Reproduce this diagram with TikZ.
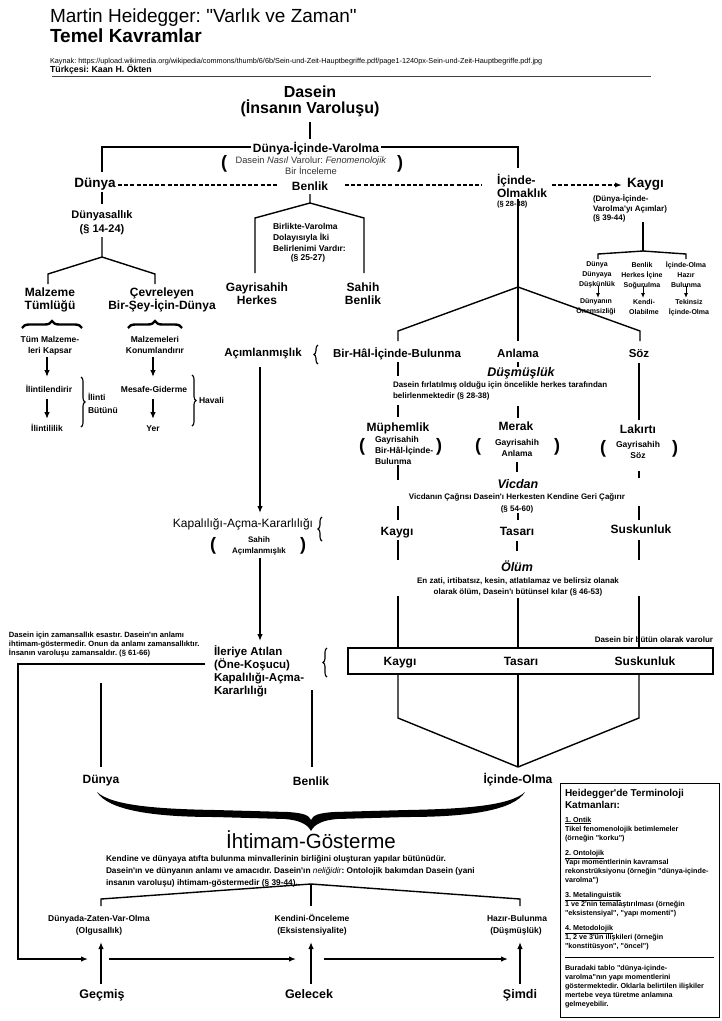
\documentclass[tikz,border=0pt]{standalone}
\usepackage{fontspec}
\setmainfont{Liberation Sans}[Ligatures=TeXOff]
\usetikzlibrary{arrows.meta,decorations.pathreplacing}
\newcommand\fsz[2]{\fontsize{#1}{#2}\selectfont}
\frenchspacing
\begin{document}
\begin{tikzpicture}[x=1pt,y=-1pt,
 every node/.style={inner sep=0pt,outer sep=0pt},
 ln/.style={line width=1.4pt},
 arr/.style={line width=1.3pt,-{Latex[length=7pt,width=5.5pt]}},
 sarr/.style={line width=1pt,-{Latex[length=5pt,width=4pt]}},
 dsh/.style={line width=1.3pt,dash pattern=on 4pt off 2.2pt},
 lab/.style={anchor=base,font=\bfseries\fsz{12}{14}},
 labm/.style={anchor=base,font=\bfseries\fsz{11.5}{13}},
 labs/.style={anchor=base,font=\bfseries\fsz{8}{10}},
 labx/.style={anchor=base,font=\bfseries\fsz{8.5}{11}},
 labi/.style={anchor=base,font=\bfseries\itshape\fsz{12.5}{14}},
 big/.style={anchor=base,font=\bfseries\fsz{13.5}{15}},
 paren/.style={font=\bfseries\fsz{18}{18}},
 cbr/.style={decorate,decoration={brace,amplitude=4pt},line width=1.1pt},
 wbr/.style={decorate,decoration={brace,amplitude=7pt},line width=2.4pt},
 blk/.style={align=left,font=\bfseries\fsz{8}{11}},
 tiny/.style={align=center,font=\bfseries\fsz{7}{10}},
]
\fill[white] (0,0) rectangle (722,1021);
\useasboundingbox (0,0) rectangle (722,1021);

% ---------- header
\node[anchor=base west,font=\fsz{19}{22}] (title) at (50,22) {Martin Heidegger: "Varlık ve Zaman"};
\node[anchor=base west,font=\bfseries\fsz{19}{22}] (subtitle) at (50,42) {Temel Kavramlar};
\node[anchor=base west,font=\fsz{7.3}{8}] (source) at (50,63) {Kaynak: https://upload.wikimedia.org/wikipedia/commons/thumb/6/6b/Sein-und-Zeit-Hauptbegriffe.pdf/page1-1240px-Sein-und-Zeit-Hauptbegriffe.pdf.jpg};
\node[anchor=base west,font=\bfseries\fsz{8.8}{10}] (translator) at (50,72) {Türkçesi: Kaan H. Ökten};
\draw[line width=1pt,black!75] (52,76.5) -- (651,76.5);

% ---------- top
\node[anchor=base,font=\bfseries\fsz{16}{18}] (dasein) at (310,97) {Dasein};
\node[anchor=base,font=\bfseries\fsz{16}{18}] (insan) at (310,113) {(İnsanın Varoluşu)};
\draw[ln] (310,122) -- (310,139);
\draw[ln] (102,172) -- (102,147) -- (518,147) -- (518,168);
\node[anchor=base,font=\bfseries\fsz{12}{14},fill=white,inner xsep=1.5pt,inner ysep=1pt] (div) at (316,152) {Dünya-İçinde-Varolma};
\node[anchor=base,font=\fsz{9.3}{11},text=black!80] (nasil) at (311,163) {Dasein \textit{Nasıl} Varolur: \textit{Fenomenolojik}};
\node[anchor=base,font=\fsz{9.3}{11},text=black!80] (ince) at (311,174) {Bir İnceleme};
\node[paren] (p1) at (224,164) {(};
\node[paren] (p2) at (400,164) {)};

% row Dünya / Benlik / İçinde-Olmaklık / Kaygı
\node[big] (dunya) at (95,187) {Dünya};
\node[lab] (benlik) at (310,190) {Benlik};
\draw[dsh] (118,185) -- (277,185);
\draw[dsh] (345,185) -- (482,185);
\draw[ln] (518,199) -- (518,341);
\node[anchor=base west,font=\bfseries\fsz{12}{14},fill=white,inner ysep=1pt] (ic1) at (497,184) {İçinde-};
\node[anchor=base west,font=\bfseries\fsz{12}{14},fill=white,inner ysep=1pt] (ic2) at (497,197) {Olmaklık};
\node[anchor=base west,font=\bfseries\fsz{7.5}{9}] (ic3) at (497,206) {(§ 28-38)};
\draw[dsh,-{Latex[length=7pt,width=5pt]}] (552,185) -- (622,185);
\node[anchor=base west,font=\bfseries\fsz{13.5}{15}] (kaygi) at (627,187) {Kaygı};
\node[anchor=north west,align=left,font=\bfseries\fsz{8}{9.5}] (kdesc) at (593,195) {(Dünya-İçinde-\\Varolma'yı Açımlar)\\(§ 39-44)};
\draw[ln] (643,222) -- (643,251);
\draw[ln] (598,259) -- (598,254) -- (643,251) -- (686,254) -- (686,259);
\node[anchor=north,tiny] (k1) at (597,262) {Dünya\\Dünyaya\\Düşkünlük};
\node[anchor=north,tiny] (k2) at (642,262) {Benlik\\Herkes İçine\\Soğurulma};
\node[anchor=north,tiny] (k3) at (686,261) {İçinde-Olma\\Hazır\\Bulunma};
\draw[sarr] (598,286) -- (598,298);
\draw[sarr] (643,286) -- (643,298);
\draw[sarr] (686,286) -- (686,298);
\node[anchor=north,tiny] (k4) at (596,299) {Dünyanın\\Önemsizliği};
\node[anchor=north,tiny] (k5) at (644,299) {Kendi-\\Olabilme};
\node[anchor=north,tiny] (k6) at (689,299) {Tekinsiz\\İçinde-Olma};

% Benlik branch
\draw[ln] (310,194) -- (310,203) -- (255,218) -- (255,273);
\draw[ln] (310,203) -- (364,218) -- (364,273);
\node[anchor=north west,align=left,font=\bfseries\fsz{8.5}{11}] (birlikte) at (273,223) {Birlikte-Varolma\\Dolayısıyla İki\\Belirlenimi Vardır:};
\node[anchor=base,font=\bfseries\fsz{8.5}{11}] (b25) at (308,260) {(§ 25-27)};
\node[anchor=north,align=center,font=\bfseries\fsz{12}{13}] (gayri) at (257,283) {Gayrisahih\\Herkes};
\node[anchor=north,align=center,font=\bfseries\fsz{12}{13}] (sahih) at (363,283) {Sahih\\Benlik};

% Dünya branch
\draw[ln] (102,192) -- (102,204);
\node[anchor=base,font=\bfseries\fsz{11}{13}] (dsal) at (102,218) {Dünyasallık};
\node[anchor=base,font=\bfseries\fsz{11}{13}] (dsec) at (102,232) {(§ 14-24)};
\draw[ln] (102,237) -- (102,257) -- (48,274) -- (48,284);
\draw[ln] (102,257) -- (155,274) -- (155,284);
\node[anchor=north,align=center,font=\bfseries\fsz{12}{13}] (malz) at (50,288) {Malzeme\\Tümlüğü};
\node[anchor=north,align=center,font=\bfseries\fsz{12}{13}] (cevre) at (162,288) {Çevreleyen\\Bir-Şey-İçin-Dünya};
\draw[wbr] (22,328) -- (82,328);
\draw[wbr] (128,328) -- (182,328);
\node[anchor=north,align=center,font=\bfseries\fsz{8.5}{11}] (tum) at (50,336) {Tüm Malzeme-\\leri Kapsar};
\node[anchor=north,align=center,font=\bfseries\fsz{8.5}{11}] (konum) at (155,336) {Malzemeleri\\Konumlandırır};
\draw[arr] (47,357) -- (47,377);
\draw[arr] (153,357) -- (153,377);
\node[labx] (ilt1) at (49,392) {İlintilendirir};
\node[labx] (mesafe) at (154,392) {Mesafe-Giderme};
\draw[arr] (47,399) -- (47,419);
\draw[arr] (153,399) -- (153,419);
\node[labx] (ilt2) at (47,431) {İlintililik};
\node[labx] (yer) at (153,431) {Yer};
\draw[cbr] (81,377) -- (81,427);
\node[anchor=north west,align=left,font=\bfseries\fsz{8.5}{13}] (butun) at (88,393) {İlinti\\Bütünü};
\draw[cbr] (192,375) -- (192,426);
\node[anchor=base west,font=\bfseries\fsz{8.5}{11}] (havali) at (199,403) {Havali};

% Açımlanmışlık row
\node[labm] (acim) at (263,356) {Açımlanmışlık};
\draw[cbr] (318,364) -- (318,345);
\node[labm] (birhal) at (397,357) {Bir-Hâl-İçinde-Bulunma};
\node[labm] (anlama) at (518,357) {Anlama};
\node[labm] (soz) at (639,357) {Söz};
\draw[ln] (518,287) -- (398,331) -- (398,341);
\draw[ln] (518,287) -- (640,331) -- (640,341);
\draw[arr] (260,367) -- (260,513);

% right columns
\draw[ln] (398,362) -- (398,376);
\draw[ln] (398,405) -- (398,417);
\draw[ln] (518,362) -- (518,367);
\node[labi] (dusmus) at (521,376) {Düşmüşlük};
\node[anchor=north west,blk] (firlat) at (393,382) {Dasein fırlatılmış olduğu için öncelikle herkes tarafından\\belirlenmektedir (§ 28-38)};
\draw[ln] (518,406) -- (518,418);
\draw[ln] (639,363) -- (639,420);
\node[lab] (muph) at (398,431) {Müphemlik};
\node[lab] (merak) at (516,430) {Merak};
\node[lab] (lakirti) at (638,433) {Lakırtı};
\node[anchor=north west,align=left,font=\bfseries\fsz{8.5}{11}] (mupsub) at (375,436) {Gayrisahih\\Bir-Hâl-İçinde-\\Bulunma};
\node[paren] (p3) at (362,447) {(};
\node[paren] (p4) at (439,447) {)};
\node[anchor=north,align=center,font=\bfseries\fsz{8.5}{11}] (mersub) at (517,439) {Gayrisahih\\Anlama};
\node[paren] (p5) at (478,447) {(};
\node[paren] (p6) at (557,447) {)};
\node[anchor=north,align=center,font=\bfseries\fsz{8.5}{11}] (laksub) at (638,441) {Gayrisahih\\Söz};
\node[paren] (p7) at (603,449) {(};
\node[paren] (p8) at (675,449) {)};
\draw[ln] (398,465) -- (398,480);
\draw[ln] (517,462) -- (517,472);
\draw[ln] (639,471) -- (639,478);
\node[labi] (vicdan) at (518,488) {Vicdan};
\node[labs] (vic1) at (517,499) {Vicdanın Çağrısı Dasein'ı Herkesten Kendine Geri Çağırır};
\node[labs] (vic2) at (517,511) {(§ 54-60)};
\draw[ln] (398,506) -- (398,520);
\draw[ln] (518,513) -- (518,520);
\draw[ln] (639,506) -- (639,520);
\node[lab] (kaygi2) at (397,535) {Kaygı};
\node[lab] (tasari2) at (517,535) {Tasarı};
\node[lab] (susk2) at (641,533) {Suskunluk};
\draw[ln] (398,540) -- (398,560);
\draw[ln] (517,541) -- (517,551);
\draw[ln] (639,540) -- (639,560);
\node[labi] (olum) at (517,571) {Ölüm};
\node[labs] (ol1) at (518,583) {En zati, irtibatsız, kesin, atlatılamaz ve belirsiz olanak};
\node[labs] (ol2) at (518,594) {olarak ölüm, Dasein'ı bütünsel kılar (§ 46-53)};
\draw[ln] (398,596) -- (398,648);
\draw[ln] (518,598) -- (518,648);
\draw[ln] (639,596) -- (639,648);

% box
\draw[line width=1.4pt] (348,648) rectangle (713,674);
\node[anchor=base east,font=\bfseries\fsz{8}{10}] (butunv) at (713,642) {Dasein bir bütün olarak varolur};
\node[lab] (kaygi3) at (400,665) {Kaygı};
\node[lab] (tasari3) at (521,665) {Tasarı};
\node[lab] (susk3) at (645,665) {Suskunluk};
\draw[ln] (398,674) -- (398,718) -- (518,767);
\draw[ln] (639,674) -- (639,718) -- (518,767);
\draw[ln] (518,674) -- (518,767);

% left middle
\node[anchor=base,font=\fsz{12}{14}] (kapali) at (243,527) {Kapalılığı-Açma-Kararlılığı};
\draw[cbr] (322,541) -- (322,517);
\node[anchor=north,align=center,font=\bfseries\fsz{8}{11}] (sahihac) at (259,537) {Sahih\\Açımlanmışlık};
\node[paren] (p9) at (213,546) {(};
\node[paren] (p10) at (303,546) {)};
\draw[arr] (260,558) -- (260,641);
\node[anchor=north west,align=left,font=\bfseries\fsz{11.5}{13}] (ileri) at (214,646) {İleriye Atılan\\(Öne-Koşucu)\\Kapalılığı-Açma-\\Kararlılığı};
\draw[cbr] (327,677) -- (327,648);
\node[anchor=north west,align=left,font=\bfseries\fsz{7.6}{9}] (note) at (9,632) {Dasein için zamansallık esastır. Dasein'ın anlamı\\ihtimam-göstermedir. Onun da anlamı zamansallıktır.\\İnsanın varoluşu zamansaldır. (§ 61-66)};
\draw[arr] (205,664) -- (18,664) -- (18,959) -- (88,959);
\draw[ln] (101,683) -- (101,767);
\draw[ln] (312,690) -- (312,767);

% lower
\node[lab] (dunya3) at (101,783) {Dünya};
\node[lab] (benlik3) at (311,785) {Benlik};
\node[lab] (icolma) at (518,783) {İçinde-Olma};
\fill (97,792) .. controls (112,806) and (160,809) .. (215,810) -- (288,812) .. controls (303,813) and (309,815) .. (311,820) .. controls (313,815) and (319,813) .. (334,812) -- (407,810) .. controls (462,809) and (510,806) .. (525,792) .. controls (514,810) and (470,817) .. (407,817) -- (337,819) .. controls (325,820) and (315,823) .. (311,831) .. controls (307,823) and (297,820) .. (285,819) -- (215,817) .. controls (152,817) and (108,810) .. (97,792) -- cycle;
\node[anchor=base,font=\fsz{20.5}{23}] (ihtimam) at (311,848) {İhtimam-Gösterme};
\node[anchor=north west,align=left,font=\bfseries\fsz{8.3}{12}] (para) at (106,855) {Kendine ve dünyaya atıfta bulunma minvallerinin birliğini oluşturan yapılar bütünüdür.\\Dasein'ın ve dünyanın anlamı ve amacıdır. Dasein'ın {\mdseries\itshape neliğidir}: Ontolojik bakımdan Dasein (yani\\insanın varoluşu) ihtimam-göstermedir (§ 39-44).};
\draw[ln] (101,906) -- (101,899) -- (311,884) -- (520,899) -- (520,906);
\draw[ln] (311,884) -- (311,906);
\node[labx] (zaten) at (99,921) {Dünyada-Zaten-Var-Olma};
\node[labx] (olgu) at (99,933) {(Olgusallık)};
\node[labx] (onc) at (312,921) {Kendini-Önceleme};
\node[labx] (eks) at (312,933) {(Eksistensiyalite)};
\node[labx] (hazir) at (517,921) {Hazır-Bulunma};
\node[labx] (dusm2) at (516,933) {(Düşmüşlük)};
\draw[arr] (101,984) -- (101,942);
\draw[arr] (311,984) -- (311,942);
\draw[arr] (520,984) -- (520,942);
\draw[arr] (109,959) -- (296,959);
\draw[arr] (324,959) -- (508,959);
\node[anchor=base,font=\bfseries\fsz{12.5}{14}] (gecmis) at (102,998) {Geçmiş};
\node[anchor=base,font=\bfseries\fsz{12.5}{14}] (gelecek) at (309,998) {Gelecek};
\node[anchor=base,font=\bfseries\fsz{12.5}{14}] (simdi) at (520,998) {Şimdi};

% terminology box
\draw[line width=1pt] (560,783) rectangle (719,1017);
\node[anchor=north west,align=left,font=\bfseries\fsz{10}{12}] (termt) at (565,789) {Heidegger'de Terminoloji\\Katmanları:};
\node[anchor=north west,align=left,font=\bfseries\fsz{7.2}{9}] (termb) at (565,817) {\underline{1. Ontik}\\Tikel fenomenolojik betimlemeler\\(örneğin "korku")\\[6pt]\underline{2. Ontolojik}\\Yapı momentlerinin kavramsal\\rekonstrüksiyonu (örneğin "dünya-içinde-\\varolma")\\[6pt]\underline{3. Metalinguistik}\\1 ve 2'nin temalaştırılması (örneğin\\"eksistensiyal", "yapı momenti")\\[6pt]\underline{4. Metodolojik}\\1, 2 ve 3'ün ilişkileri (örneğin\\"konstitüsyon", "öncel")};
\draw[line width=0.8pt] (565,957) -- (714,957);
\node[anchor=north west,align=left,font=\bfseries\fsz{7.2}{9}] (termn) at (565,965) {Buradaki tablo "dünya-içinde-\\varolma"nın yapı momentlerini\\göstermektedir. Oklarla belirtilen ilişkiler\\mertebe veya türetme anlamına\\gelmeyebilir.};
\end{tikzpicture}
\end{document}
